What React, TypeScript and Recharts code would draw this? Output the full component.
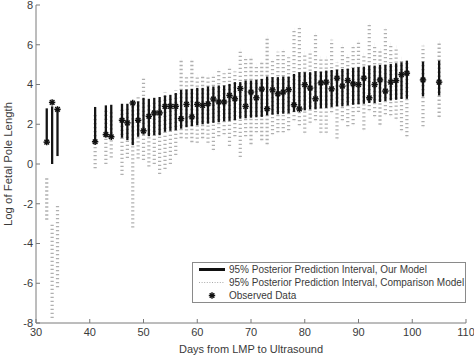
import React from 'react';
import { ComposedChart, Scatter, ErrorBar, XAxis, YAxis } from 'recharts';

const days = [32, 33, 34, 41, 43, 44, 46, 47, 48, 49, 50, 51, 52, 53, 54, 55, 56, 57, 58, 59, 60, 61, 62, 63, 64, 65, 66, 67, 68, 69, 70, 71, 72, 73, 74, 75, 76, 77, 78, 79, 80, 81, 82, 83, 84, 85, 86, 87, 88, 89, 90, 91, 92, 93, 94, 95, 96, 97, 98, 99, 102, 105];

const observed = [1.1, 3.1, 2.75, 1.12, 1.48, 1.37, 2.2, 2.07, 3.07, 2.2, 1.67, 2.4, 2.57, 2.57, 2.9, 2.9, 2.9, 2.28, 3.0, 2.37, 3.0, 2.95, 3.03, 3.27, 3.12, 3.12, 3.45, 3.28, 3.8, 2.9, 3.62, 3.33, 3.77, 2.78, 3.73, 3.53, 3.62, 3.74, 2.98, 2.77, 3.99, 3.82, 3.28, 4.08, 4.12, 3.78, 4.32, 3.92, 4.2, 4.03, 4.0, 4.32, 3.33, 4.0, 4.23, 3.67, 4.12, 4.2, 4.5, 4.57, 4.23, 4.12];

const ourLow = [1.1, 0.0, 0.4, 1.1, 1.37, 1.3, 1.32, 1.2, 0.95, 1.37, 1.48, 1.4, 1.45, 1.45, 1.62, 1.67, 1.7, 1.78, 1.85, 1.9, 1.95, 2.0, 2.03, 2.07, 2.1, 2.15, 2.17, 2.2, 2.28, 2.3, 2.33, 2.35, 2.37, 2.45, 2.48, 2.5, 2.53, 2.55, 2.62, 2.67, 2.7, 2.75, 2.75, 2.8, 2.82, 2.87, 2.9, 2.9, 2.95, 2.98, 3.0, 3.03, 3.07, 3.07, 3.12, 3.17, 3.2, 3.23, 3.27, 3.28, 3.4, 3.45];

const ourHigh = [2.8, 2.9, 2.8, 2.87, 2.95, 2.98, 3.03, 3.03, 3.07, 3.15, 3.33, 3.28, 3.33, 3.37, 3.45, 3.48, 3.57, 3.73, 3.75, 3.78, 3.83, 3.83, 3.9, 3.9, 3.95, 3.95, 4.03, 4.12, 4.12, 4.2, 4.2, 4.23, 4.28, 4.4, 4.37, 4.37, 4.4, 4.4, 4.53, 4.62, 4.62, 4.62, 4.67, 4.65, 4.7, 4.73, 4.75, 4.78, 4.8, 4.83, 4.87, 4.9, 4.95, 4.95, 4.98, 5.0, 5.03, 5.07, 5.12, 5.2, 5.15, 5.2];

const compLow = [-2.8, -7.75, -6.2, -0.22, 0.0, 0.33, -0.55, 0.3, -3.2, 0.28, 0.2, -0.13, 0.0, -0.5, -0.25, 0.0, 0.45, 1.3, 1.28, 1.1, 1.07, 1.3, 1.07, 0.7, 1.4, 1.5, 0.9, 1.4, 0.35, 1.4, 1.0, 1.6, 1.2, 1.0, 1.5, 1.6, 1.6, 1.7, 2.2, 1.95, 1.57, 2.07, 2.2, 1.57, 1.57, 2.6, 1.28, 2.2, 1.9, 2.0, 2.62, 1.73, 2.7, 2.4, 1.98, 2.5, 2.45, 2.28, 1.7, 1.4, 1.9, 2.37];

const compHigh = [-0.7, -2.95, -2.0, 2.6, 2.7, 2.7, 2.8, 2.8, 2.9, 3.37, 4.32, 3.1, 3.2, 3.2, 3.6, 3.35, 3.7, 5.28, 4.37, 5.23, 4.45, 4.4, 4.45, 4.5, 4.7, 4.57, 4.9, 4.65, 5.73, 5.37, 5.37, 5.0, 5.1, 6.4, 5.2, 5.65, 5.7, 5.37, 6.78, 6.9, 5.6, 5.7, 6.53, 5.37, 5.37, 6.25, 5.12, 5.95, 5.45, 5.9, 6.17, 5.53, 7.0, 6.03, 5.75, 6.78, 6.03, 5.9, 5.32, 5.15, 5.95, 6.12];

const xTicks = [30, 40, 50, 60, 70, 80, 90, 100, 110];
const yTicks = [-8, -6, -4, -2, 0, 2, 4, 6, 8];

const ourData = days.map((d, i) => ({ x: d, y: ourLow[i], err: [0, ourHigh[i] - ourLow[i]] }));
const compData = days.map((d, i) => ({ x: d, y: compLow[i], err: [0, compHigh[i] - compLow[i]] }));
const obsData = days.map((d, i) => ({ x: d, y: observed[i] }));

const FONT = '"Liberation Sans", Arial, Helvetica, sans-serif';
const AXIS = '#7a7a7a';
const TEXT = '#3a3a3a';

const NoMark = () => <g />;

const Asterisk = (props: any) => {
  const { cx, cy } = props;
  if (cx == null || cy == null) return <g />;
  const r = 3.2;
  const d = r * 0.72;
  return (
    <g stroke="#111" strokeWidth={1.5}>
      <line x1={cx - r} y1={cy} x2={cx + r} y2={cy} />
      <line x1={cx} y1={cy - r} x2={cx} y2={cy + r} />
      <line x1={cx - d} y1={cy - d} x2={cx + d} y2={cy + d} />
      <line x1={cx - d} y1={cy + d} x2={cx + d} y2={cy - d} />
    </g>
  );
};

const LegendBox = () => (
  <svg width={274} height={41} style={{ position: 'absolute', left: 192, top: 262 }}>
    <rect x={0.5} y={0.5} width={273} height={40} fill="#fff" stroke="#8a8a8a" strokeWidth={1} />
    <line x1={7} y1={7.5} x2={33} y2={7.5} stroke="#111" strokeWidth={3} />
    <text x={37} y={11} fontSize={10} fontFamily={FONT} fill={TEXT}>95% Posterior Prediction Interval, Our Model</text>
    <line x1={7} y1={20.5} x2={33} y2={20.5} stroke="#aaa" strokeWidth={1} strokeDasharray="1 1.6" />
    <text x={37} y={24} fontSize={10} fontFamily={FONT} fill={TEXT}>95% Posterior Prediction Interval, Comparison Model</text>
    <Asterisk cx={20} cy={33.5} />
    <text x={37} y={37} fontSize={10} fontFamily={FONT} fill={TEXT}>Observed Data</text>
  </svg>
);

export default function App() {
  return (
    <div style={{ position: 'absolute', left: 0, top: 0, width: 474, height: 356, background: '#fff' }}>
      <ComposedChart width={474} height={356} margin={{ top: 5, right: 8, bottom: 0, left: 0 }}>
        <XAxis
          type="number"
          dataKey="x"
          domain={[30, 110]}
          ticks={xTicks}
          interval={0}
          height={33}
          allowDataOverflow
          stroke={AXIS}
          tickSize={-4}
          tickMargin={9}
          tick={{ fill: TEXT, fontSize: 11, fontFamily: FONT }}
          label={{ value: 'Days from LMP to Ultrasound', position: 'insideBottom', offset: 3, fill: TEXT, fontSize: 11, fontFamily: FONT }}
        />
        <YAxis
          type="number"
          dataKey="y"
          domain={[-8, 8]}
          ticks={yTicks}
          interval={0}
          width={36}
          allowDataOverflow
          stroke={AXIS}
          tickSize={-4}
          tickMargin={7}
          tick={{ fill: TEXT, fontSize: 11, fontFamily: FONT }}
          label={{ value: 'Log of Fetal Pole Length', angle: -90, position: 'insideLeft', offset: 8, fill: TEXT, fontSize: 11.4, fontFamily: FONT, style: { textAnchor: 'middle' } }}
        />
        <Scatter data={compData} shape={NoMark} isAnimationActive={false}>
          <ErrorBar dataKey="err" direction="y" width={0} stroke="#b0b0b0" strokeWidth={3.2} strokeDasharray="1.3 2.7" isAnimationActive={false} />
        </Scatter>
        <Scatter data={ourData} shape={NoMark} isAnimationActive={false}>
          <ErrorBar dataKey="err" direction="y" width={0} stroke="#151515" strokeWidth={2.3} isAnimationActive={false} />
        </Scatter>
        <Scatter data={obsData} shape={Asterisk} isAnimationActive={false} />
      </ComposedChart>
      <LegendBox />
    </div>
  );
}
